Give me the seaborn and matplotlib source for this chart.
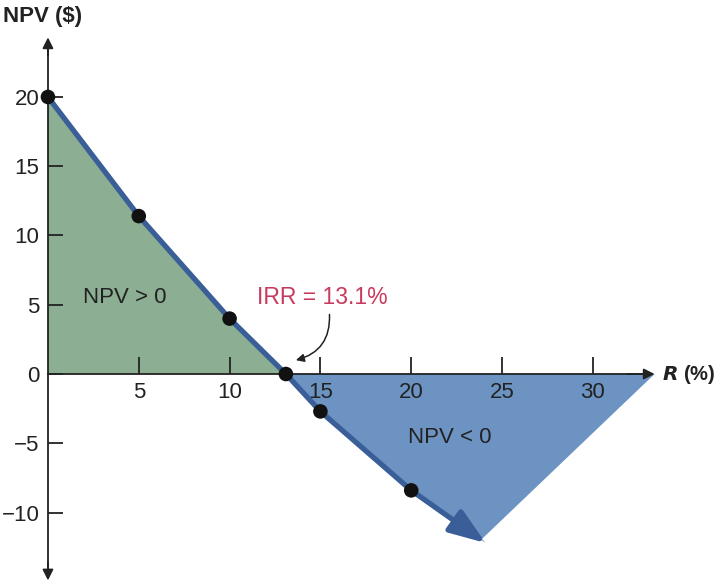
import numpy as np
import matplotlib
matplotlib.use("Agg")
import matplotlib.pyplot as plt
import seaborn as sns
import pandas as pd

sns.set_style("white")
plt.rcParams["font.family"] = ["Liberation Sans", "DejaVu Sans"]
plt.rcParams.update({"font.size": 16})

# NPV profile data
rates = [0, 5, 10, 13.1, 15, 20]
npv = [20, 11.4, 4.0, 0, -2.7, -8.4]
arrow_end = (24.1, -12.2)
irr = 13.1
x_ticks = [5, 10, 15, 20, 25, 30]
y_ticks = [-10, -5, 0, 5, 10, 15, 20]
x_axis_end = 33.4
blue_corner = (23.9, -11.9)

df = pd.DataFrame({"R": rates, "NPV": npv})

line_col = "#3a5f98"
green = "#8cae92"
blue = "#6c93c2"
ink = "#222222"

fig = plt.figure(figsize=(7.2, 5.84), dpi=100)
ax = fig.add_axes([0, 0, 1, 1])
ax.set_xlim(-2.64, 37.0)
ax.set_ylim(-15.16, 27.0)
ax.set_axisbelow(False)

# shaded regions
pos = df[df.R <= irr]
gx = list(pos.R) + [0]
gy = list(pos.NPV) + [0]
ax.fill(gx, gy, color=green, lw=0, zorder=0.5)
neg = df[df.R >= irr]
bx = list(neg.R) + [arrow_end[0], blue_corner[0], x_axis_end]
by = list(neg.NPV) + [arrow_end[1], blue_corner[1], 0]
ax.fill(bx, by, color=blue, lw=0, zorder=0.5)

# axes through the origin
for s in ["top", "right"]:
    ax.spines[s].set_visible(False)
ax.spines["left"].set_position(("data", 0))
ax.spines["bottom"].set_position(("data", 0))
ax.spines["left"].set_bounds(-14.5, 24.0)
ax.spines["bottom"].set_bounds(0, x_axis_end - 0.5)
for s in ["left", "bottom"]:
    ax.spines[s].set_color(ink)
    ax.spines[s].set_linewidth(1.3)
    ax.spines[s].set_zorder(2)
ax.set_xticks(x_ticks)
ax.set_yticks(y_ticks)
ax.set_yticklabels([f"{t}".replace("-", "\u2212") for t in y_ticks])
ax.tick_params(axis="x", bottom=True, direction="in", length=12, width=1.3,
               pad=6, colors=ink, labelsize=16)
ax.tick_params(axis="y", left=True, direction="in", length=11, width=1.3,
               pad=6, colors=ink, labelsize=16)

arr = dict(arrowstyle="-|>", color=ink, lw=1.3, mutation_scale=16,
           shrinkA=0, shrinkB=0)
ax.annotate("", xy=(0, 24.3), xytext=(0, 23.0), arrowprops=arr)
ax.annotate("", xy=(0, -14.9), xytext=(0, -13.6), arrowprops=arr)
ax.annotate("", xy=(x_axis_end, 0), xytext=(x_axis_end - 1.5, 0), arrowprops=arr)

# NPV curve
sns.lineplot(data=df, x="R", y="NPV", color=line_col, lw=3.8, ax=ax,
             zorder=3, sort=False)
ax.annotate("", xy=arrow_end, xytext=(rates[-1], npv[-1]),
            arrowprops=dict(arrowstyle="-|>,head_length=1.1,head_width=0.4",
                            color=line_col, lw=3.8, mutation_scale=20,
                            shrinkA=0, shrinkB=0), zorder=3)
sns.scatterplot(data=df, x="R", y="NPV", color="#111111", s=110, ax=ax,
                zorder=4, edgecolor="none")
ax.set_xlabel("")
ax.set_ylabel("")

# labels
ax.text(-2.45, 25.8, "NPV ($)", fontsize=16, fontweight="bold", va="center",
        ha="left", color=ink)
ax.text(33.8, 0, "$\\mathbfit{R}$ (%)", fontsize=14.5, fontweight="bold",
        va="center", ha="left", color=ink)
ax.text(4.25, 5.55, "NPV > 0", fontsize=16, ha="center", va="center",
        color=ink)
ax.text(22.1, -4.55, "NPV < 0", fontsize=16, ha="center", va="center",
        color=ink)
ax.text(15.1, 5.55, "IRR = 13.1%", fontsize=16.5, ha="center", va="center",
        color="#c83a5c")
ax.annotate("", xy=(13.65, 1.0), xytext=(15.5, 4.3),
            arrowprops=dict(arrowstyle="-|>", color=ink, lw=1.1,
                            mutation_scale=12, connectionstyle="arc3,rad=-0.4",
                            shrinkA=0, shrinkB=0))

fig.savefig("out.png", dpi=100)
